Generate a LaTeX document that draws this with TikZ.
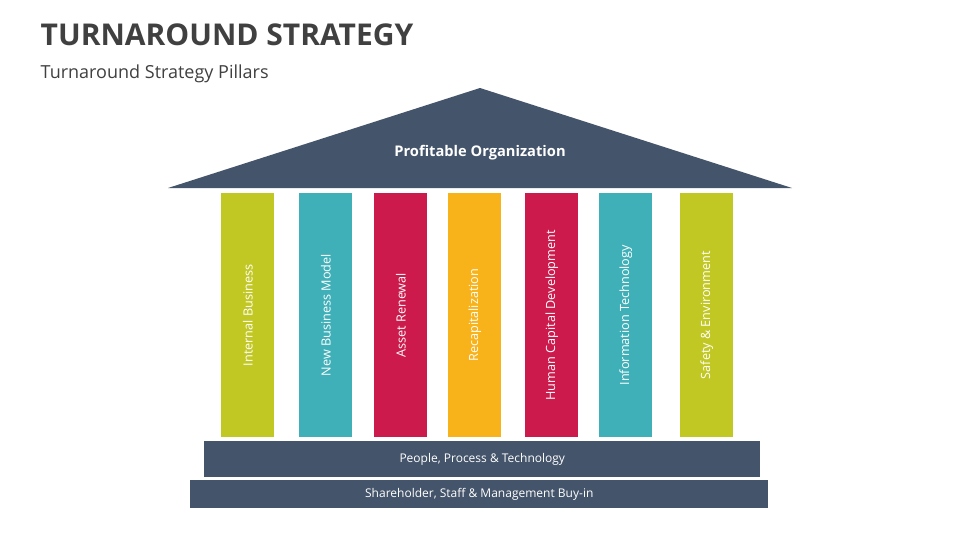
\documentclass[tikz,border=0pt]{standalone}
\usepackage{fontspec}
\setmainfont{Open Sans}
\definecolor{slate}{HTML}{44546A}
\definecolor{lime}{HTML}{C2C823}
\definecolor{teal2}{HTML}{3FAFB8}
\definecolor{crim}{HTML}{CB1A4B}
\definecolor{orng}{HTML}{F8B21A}
\definecolor{titlec}{HTML}{404040}
\begin{document}
\begin{tikzpicture}[x=0.75pt,y=-0.75pt,
  pillar/.style={minimum width=53*0.75pt,minimum height=244*0.75pt,inner sep=0pt,anchor=north west},
  ptext/.style={rotate=90,text=white,font=\fontsize{9.5}{11}\selectfont},
  base/.style={fill=slate,draw=none,inner sep=0pt,anchor=north west,text=white,font=\fontsize{9}{11}\selectfont}]
\useasboundingbox[fill=white] (0,0) rectangle (960,540);
\node[anchor=west,text=titlec,font=\fontsize{22.5}{26}\selectfont\bfseries] (title) at (36,35) {TURNAROUND STRATEGY};
\node[anchor=west,text=titlec,font=\fontsize{13.5}{16}\selectfont] (sub) at (36,74) {Turnaround Strategy Pillars};
\fill[slate] (168,188) -- (480,88) -- (792,188) -- cycle;
\node[text=white,font=\fontsize{11}{13}\selectfont\bfseries] (roof) at (480,153) {Profitable Organization};
\foreach \x/\c/\t [count=\i] in {221/lime/Internal Business,299/teal2/New Business Model,374/crim/Asset Renewal,448/orng/Recapitalization,525/crim/Human Capital Development,599/teal2/Information Technology,680/lime/Safety \& Environment}{
  \node[pillar,fill=\c] (p\i) at (\x,193) {};
  \node[ptext] (t\i) at (p\i.center) {\t};
}
\node[base,minimum width=556*0.75pt,minimum height=36*0.75pt] (b1) at (204,441) {People, Process \& Technology};
\node[base,minimum width=578*0.75pt,minimum height=28*0.75pt] (b2) at (190,480) {Shareholder, Staff \& Management Buy-in};
\end{tikzpicture}
\end{document}
